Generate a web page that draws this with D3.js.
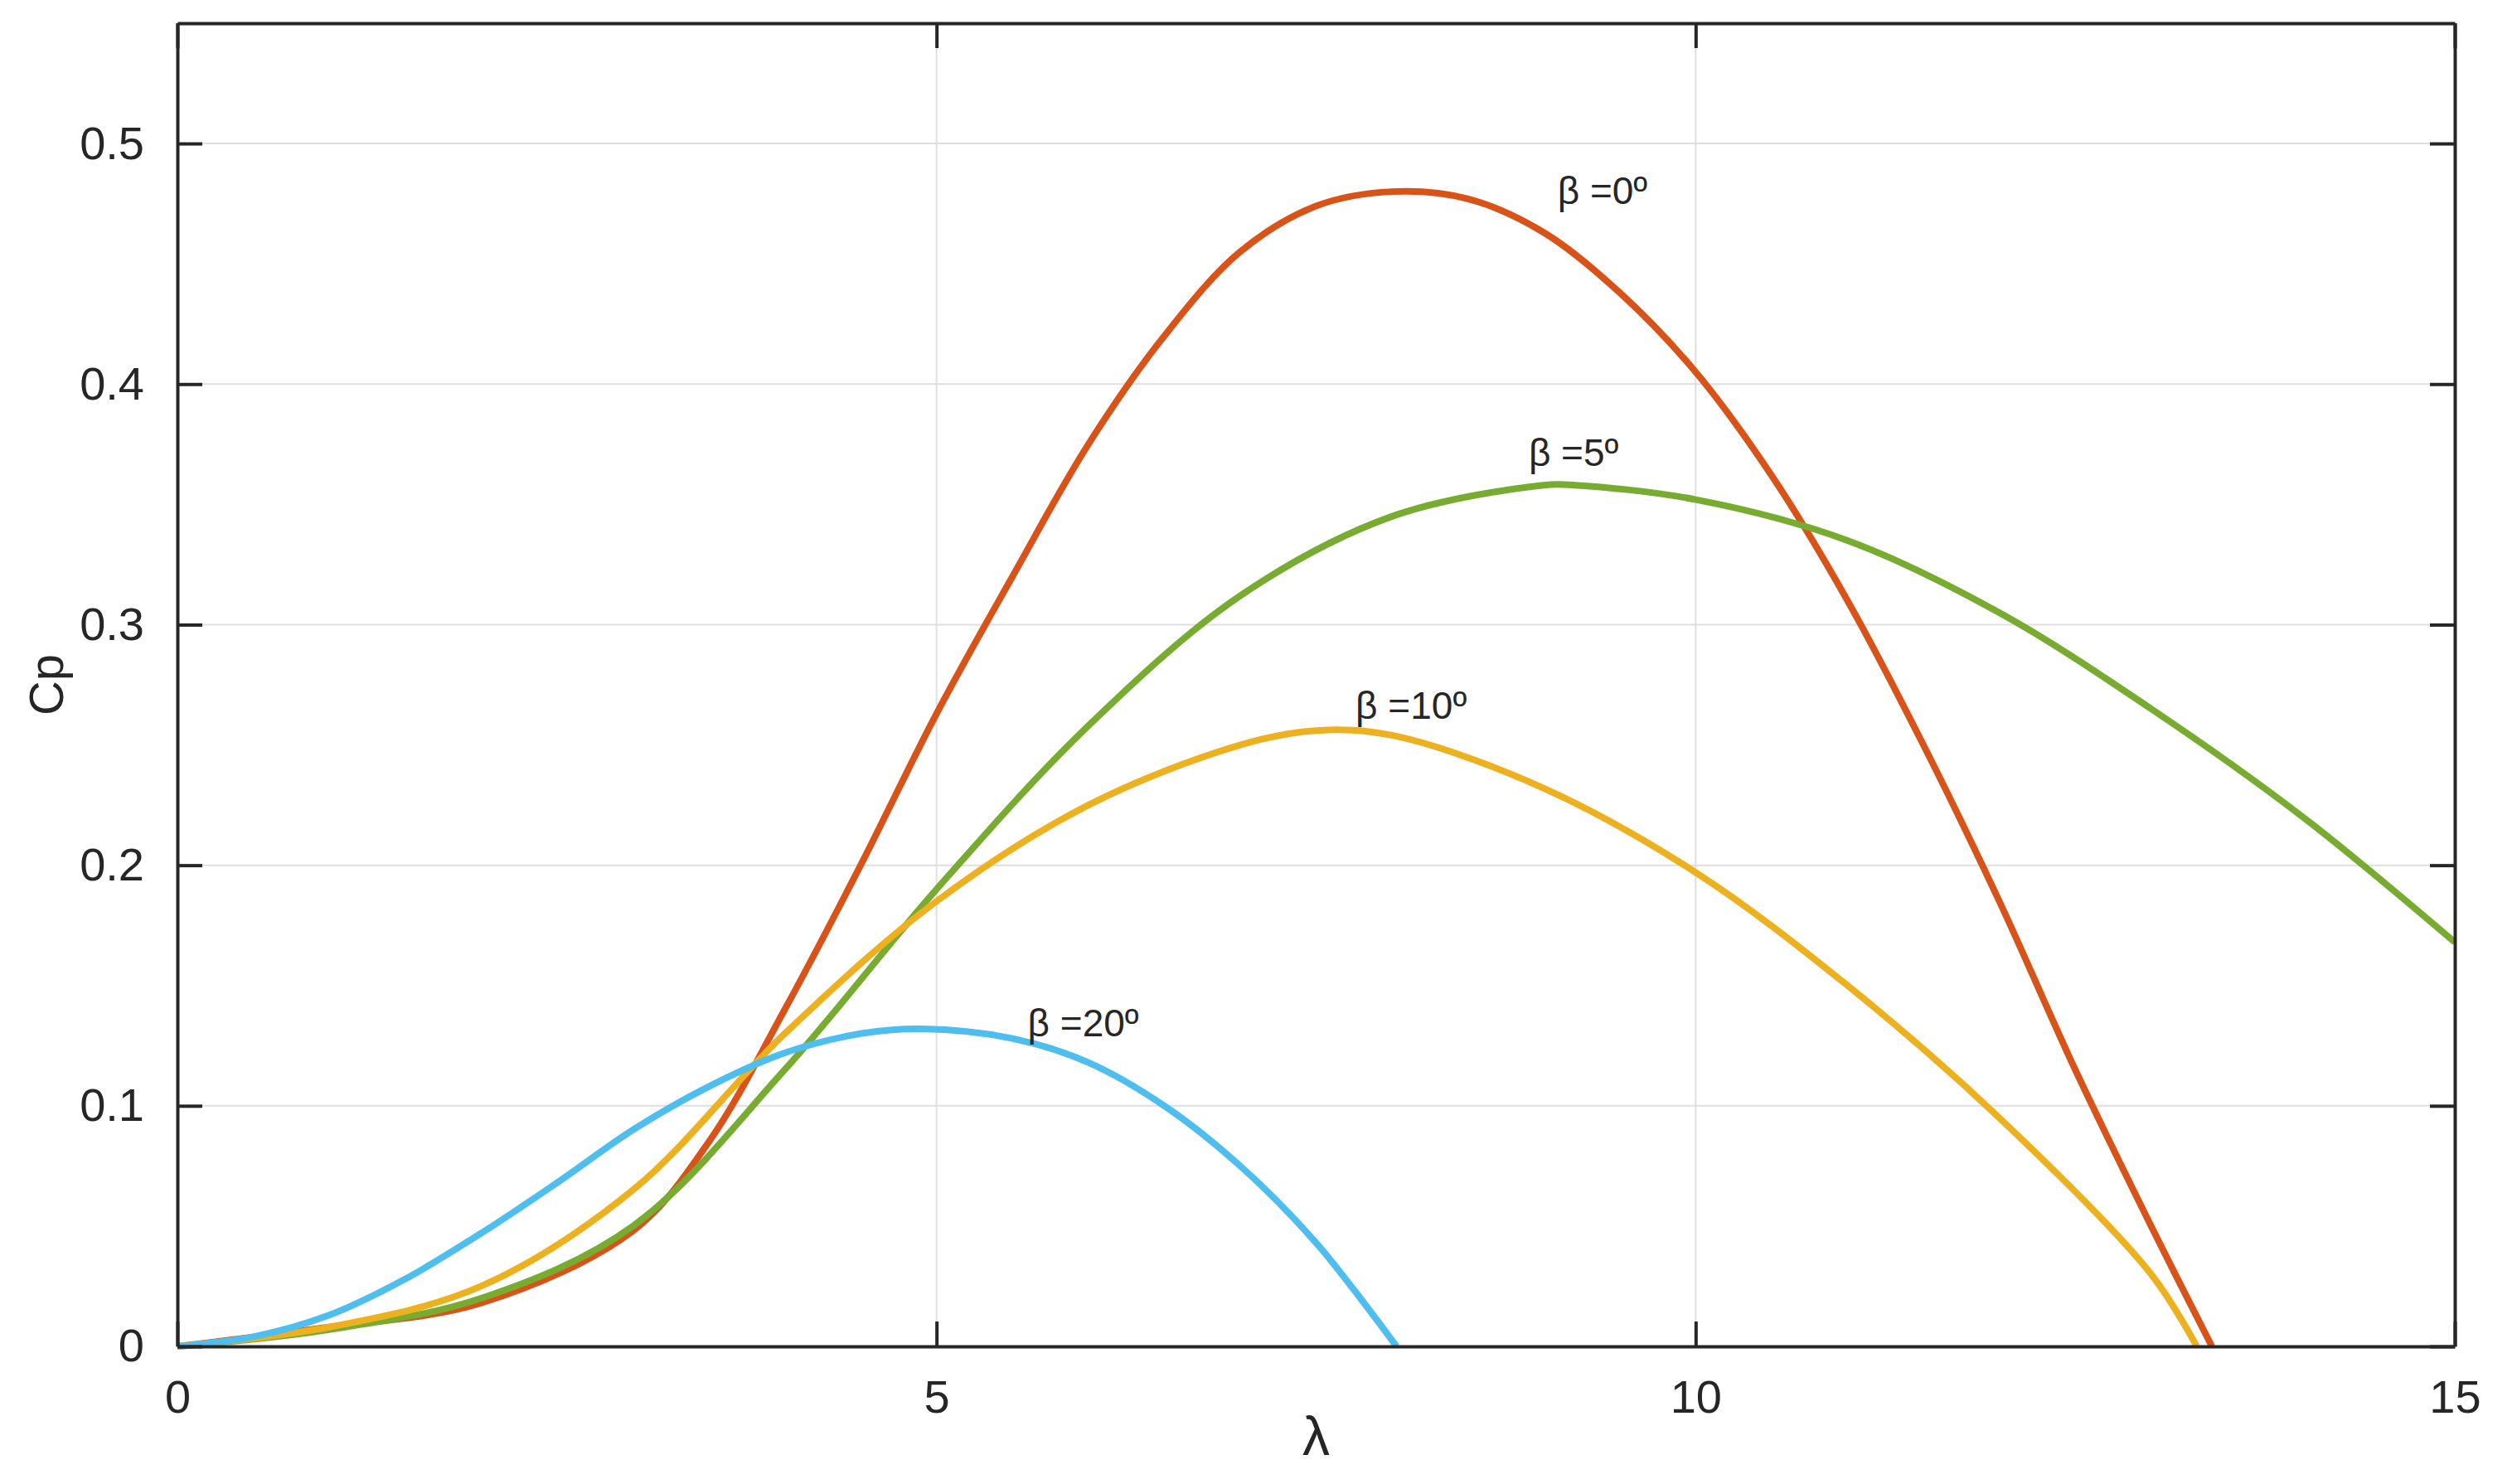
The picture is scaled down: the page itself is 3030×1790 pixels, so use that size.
<!DOCTYPE html><html><head><meta charset="utf-8"><script src="https://cdn.jsdelivr.net/npm/d3@7"></script>
<style>body{margin:0;background:#fff}text{font-family:Arial,"Liberation Sans",sans-serif;fill:#262626}</style></head><body><svg id="c" width="3030" height="1790"></svg><script>
const xTicks=[0,5,10,15];
const yTicks=[0,0.1,0.2,0.3,0.4,0.5];
const beta0=[[0,0],[1,0.008],[2,0.018],[3,0.048],[3.5,0.085],[4,0.14],[4.5,0.2],[5,0.263],[5.5,0.32],[6,0.375],[6.5,0.42],[7,0.455],[7.5,0.474],[8,0.48],[8.5,0.477],[9,0.463],[9.5,0.438],[10,0.405],[10.5,0.362],[11,0.31],[11.5,0.25],[12,0.185],[12.5,0.115],[13,0.05],[13.4,0]];
const beta5=[[0,0],[1,0.007],[2,0.02],[3,0.05],[4,0.115],[5,0.19],[6,0.258],[7,0.312],[8,0.345],[9,0.358],[9.2,0.358],[10,0.352],[11,0.335],[12,0.305],[13,0.265],[14,0.22],[15,0.168]];
const beta10=[[0,0],[1,0.008],[2,0.025],[3,0.065],[4,0.13],[5,0.185],[6,0.225],[7,0.25],[7.5,0.256],[8,0.254],[9,0.232],[10,0.197],[11,0.15],[12,0.095],[13,0.03],[13.3,0]];
const beta20=[[0,0],[0.5,0.004],[1,0.013],[1.5,0.028],[2,0.047],[2.5,0.068],[3,0.09],[3.5,0.108],[4,0.122],[4.5,0.13],[4.9,0.132],[5.5,0.128],[6,0.118],[6.5,0.1],[7,0.075],[7.5,0.043],[8.03,0]];
const labels=["β =0º","β =5º","β =10º","β =20º"];
const labelPos=[[9.09,0.475],[8.9,0.366],[7.76,0.261],[5.6,0.129]];
const series=[beta0,beta5,beta10,beta20];
const colors=["#D95319","#77AC30","#EDB120","#4DBEEE"];
const L=214,R=2961,T=28,B=1624;
const svg=d3.select("#c");
const x=d3.scaleLinear().domain([0,15]).range([L,R]);
const y=d3.scaleLinear().domain([0,0.55]).range([B,T]);
const g=svg.append("g");
g.selectAll(".gx").data(xTicks).join("line").attr("x1",d=>x(d)).attr("x2",d=>x(d)).attr("y1",T).attr("y2",B).attr("stroke","#dfdfdf").attr("stroke-width",2);
g.selectAll(".gy").data(yTicks).join("line").attr("y1",d=>y(d)).attr("y2",d=>y(d)).attr("x1",L).attr("x2",R).attr("stroke","#dfdfdf").attr("stroke-width",2);
const line=d3.line().x(d=>x(d[0])).y(d=>y(d[1])).curve(d3.curveCatmullRom.alpha(0.5));
series.forEach((s,i)=>svg.append("path").attr("d",line(s)).attr("fill","none").attr("stroke",colors[i]).attr("stroke-width",8));
const ax=(a,tr)=>{const s=svg.append("g").attr("transform",tr).call(a);s.selectAll("path,line").attr("stroke","#262626").attr("stroke-width",4);s.selectAll("text").style("font-size","56px").attr("fill","#262626");return s;};
ax(d3.axisBottom(x).tickValues(xTicks).tickSize(-30).tickSizeOuter(0).tickPadding(40).tickFormat(d=>d),`translate(0,${B})`);
ax(d3.axisTop(x).tickValues(xTicks).tickSize(-30).tickSizeOuter(0).tickFormat(""),`translate(0,${T})`);
ax(d3.axisLeft(y).tickValues(yTicks).tickSize(-30).tickSizeOuter(0).tickPadding(40).tickFormat(d=>d),`translate(${L},0)`);
ax(d3.axisRight(y).tickValues(yTicks).tickSize(-30).tickSizeOuter(0).tickFormat(""),`translate(${R},0)`);
svg.selectAll(".lab").data(labels).join("text").attr("x",(d,i)=>x(labelPos[i][0])).attr("y",(d,i)=>y(labelPos[i][1])).style("font-size","46px").style("font-weight","500").text(d=>d);
svg.append("text").attr("x",(L+R)/2).attr("y",1755).attr("text-anchor","middle").style("font-size","66px").text("λ");
svg.append("text").attr("transform",`translate(76,${(T+B)/2}) rotate(-90)`).attr("text-anchor","middle").style("font-size","58px").text("Cp");
</script></body></html>
